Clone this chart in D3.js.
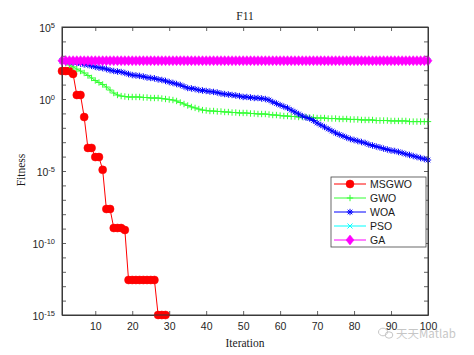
<!DOCTYPE html>
<html><head><meta charset="utf-8">
<script src="https://cdn.jsdelivr.net/npm/d3@7"></script>
<style>body{margin:0;background:#fff}svg{display:block}</style>
</head><body>
<svg id="chart" width="474" height="355"></svg>
<script>
const seriesNames = ["MSGWO", "GWO", "WOA", "PSO", "GA"];
const seriesColors = ["#ff0000", "#33ff33", "#0000ff", "#00ffff", "#ff00ff"];
const xTickValues = [10, 20, 30, 40, 50, 60, 70, 80, 90, 100];
const yLabelExponents = [5, 0, -5, -10, -15];

const msgwo = [8.7e1, 8.7e1, 8.7e1, 5.5e1, 1.9, 1.9, 5.6e-2, 4.0e-4, 4.0e-4, 9.3e-5,
  9.3e-5, 1.2e-5, 2.3e-8, 2.3e-8, 1.1e-9, 1.1e-9, 1.1e-9, 8e-10, 2.7e-13, 2.7e-13,
  2.7e-13, 2.7e-13, 2.7e-13, 2.7e-13, 2.7e-13, 2.7e-13, 1e-15, 1e-15, 1e-15];

const gwo = [4.4e2, 3.2e2, 2.3e2, 1.7e2, 1.2e2, 8.8e1, 6.4e1, 4.3e1, 2.9e1, 1.93e1,
  1.40e1, 1.02e1, 6.8, 4.2, 2.6, 1.9, 1.6, 1.49, 1.38, 1.38,
  1.38, 1.38, 1.27, 1.27, 1.17, 1.17, 1.17, 1.08, 1.0, 0.92,
  0.85, 0.73, 0.57, 0.45, 0.354, 0.28, 0.24, 0.20, 0.17, 0.16,
  0.147, 0.147, 0.136, 0.136, 0.125, 0.125, 0.115, 0.115, 0.107, 0.107,
  0.107, 0.098, 0.098, 0.091, 0.091, 0.091, 0.084, 0.077, 0.077, 0.071,
  0.066, 0.066, 0.061, 0.061, 0.056, 0.056, 0.056, 0.052, 0.052, 0.048,
  0.048, 0.048, 0.044, 0.044, 0.044, 0.041, 0.041, 0.041, 0.038, 0.038,
  0.038, 0.035, 0.035, 0.035, 0.035, 0.032, 0.032, 0.032, 0.032, 0.030,
  0.030, 0.030, 0.030, 0.030, 0.027, 0.027, 0.027, 0.027, 0.027, 0.027];

const woa = [4.4e2, 4.0e2, 3.7e2, 3.4e2, 3.2e2, 2.9e2, 2.5e2, 2.3e2, 2.0e2, 1.7e2,
  1.5e2, 1.4e2, 1.2e2, 1.0e2, 8.8e1, 8.1e1, 7.5e1, 6.4e1, 5.4e1, 4.6e1,
  4.3e1, 4.0e1, 3.6e1, 3.1e1, 2.9e1, 2.7e1, 2.3e1, 2.1e1, 1.8e1, 1.5e1,
  1.3e1, 1.1e1, 9.4, 7.4, 5.8, 5.4, 4.9, 4.2, 3.9, 3.6,
  3.3, 3.1, 2.8, 2.4, 2.2, 2.05, 1.9, 1.75, 1.6, 1.38,
  1.38, 1.27, 1.17, 1.17, 1.08, 1.0, 0.85, 0.62, 0.49, 0.38,
  0.30, 0.24, 0.17, 0.125, 0.091, 0.066, 0.052, 0.044, 0.032, 0.0215,
  0.0156, 0.0114, 0.0083, 0.0060, 0.0044, 0.0034, 0.0027, 0.0021, 0.00167, 0.00142,
  0.00121, 0.00103, 8.8e-4, 6.9e-4, 5.9e-4, 5.0e-4, 4.3e-4, 3.6e-4, 3.1e-4, 2.65e-4,
  2.45e-4, 2.1e-4, 1.8e-4, 1.5e-4, 1.3e-4, 1.1e-4, 9.4e-5, 8.0e-5, 6.8e-5, 5.8e-5];

const pso = [4.6e2, 4.6e2, 4.6e2, 4.6e2, 4.6e2, 4.6e2, 4.6e2, 4.6e2, 4.6e2, 4.6e2,
  4.6e2, 4.6e2, 4.6e2, 4.6e2, 4.6e2, 4.6e2, 4.6e2, 4.6e2, 4.6e2, 4.6e2,
  4.6e2, 4.6e2, 4.6e2, 4.6e2, 4.6e2, 4.6e2, 4.6e2, 4.6e2, 4.6e2, 4.6e2,
  4.6e2, 4.6e2, 4.6e2, 4.6e2, 4.6e2, 4.6e2, 4.6e2, 4.6e2, 4.6e2, 4.6e2,
  4.6e2, 4.6e2, 4.6e2, 4.6e2, 4.6e2, 4.6e2, 4.6e2, 4.6e2, 4.6e2, 4.6e2,
  4.6e2, 4.6e2, 4.6e2, 4.6e2, 4.6e2, 4.6e2, 4.6e2, 4.6e2, 4.6e2, 4.6e2,
  4.6e2, 4.6e2, 4.6e2, 4.6e2, 4.6e2, 4.6e2, 4.6e2, 4.6e2, 4.6e2, 4.6e2,
  4.6e2, 4.6e2, 4.6e2, 4.6e2, 4.6e2, 4.6e2, 4.6e2, 4.6e2, 4.6e2, 4.6e2,
  4.6e2, 4.6e2, 4.6e2, 4.6e2, 4.6e2, 4.6e2, 4.6e2, 4.6e2, 4.6e2, 4.6e2,
  4.6e2, 4.6e2, 4.6e2, 4.6e2, 4.6e2, 4.6e2, 4.6e2, 4.6e2, 4.6e2, 4.6e2];

const ga = [4.6e2, 4.6e2, 4.6e2, 4.6e2, 4.6e2, 4.6e2, 4.6e2, 4.6e2, 4.6e2, 4.6e2,
  4.6e2, 4.6e2, 4.6e2, 4.6e2, 4.6e2, 4.6e2, 4.6e2, 4.6e2, 4.6e2, 4.6e2,
  4.6e2, 4.6e2, 4.6e2, 4.6e2, 4.6e2, 4.6e2, 4.6e2, 4.6e2, 4.6e2, 4.6e2,
  4.6e2, 4.6e2, 4.6e2, 4.6e2, 4.6e2, 4.6e2, 4.6e2, 4.6e2, 4.6e2, 4.6e2,
  4.6e2, 4.6e2, 4.6e2, 4.6e2, 4.6e2, 4.6e2, 4.6e2, 4.6e2, 4.6e2, 4.6e2,
  4.6e2, 4.6e2, 4.6e2, 4.6e2, 4.6e2, 4.6e2, 4.6e2, 4.6e2, 4.6e2, 4.6e2,
  4.6e2, 4.6e2, 4.6e2, 4.6e2, 4.6e2, 4.6e2, 4.6e2, 4.6e2, 4.6e2, 4.6e2,
  4.6e2, 4.6e2, 4.6e2, 4.6e2, 4.6e2, 4.6e2, 4.6e2, 4.6e2, 4.6e2, 4.6e2,
  4.6e2, 4.6e2, 4.6e2, 4.6e2, 4.6e2, 4.6e2, 4.6e2, 4.6e2, 4.6e2, 4.6e2,
  4.6e2, 4.6e2, 4.6e2, 4.6e2, 4.6e2, 4.6e2, 4.6e2, 4.6e2, 4.6e2, 4.6e2];

const allSeries = [msgwo, gwo, woa, pso, ga];

const svg = d3.select("#chart");
const L = 62, R = 428, T = 27, B = 315;
const x = d3.scaleLinear().domain([1, 100]).range([L, R]);
const y = d3.scaleLog().domain([1e-15, 1e5]).range([B, T]);
const axisColor = "#3a3a3a";
const sans = "'Liberation Sans', Arial, sans-serif";
const serif = "'Liberation Serif', 'Times New Roman', serif";

// frame
svg.append("rect").attr("x", L).attr("y", T).attr("width", R - L).attr("height", B - T)
  .attr("fill", "#fff").attr("stroke", "none");

const decades = d3.range(-15, 6).map(e => Math.pow(10, e));

function styleAxis(g) {
  g.select(".domain").attr("stroke", axisColor).attr("stroke-width", 1);
  g.selectAll(".tick line").attr("stroke", axisColor).attr("stroke-width", 0.8);
  g.selectAll("text").attr("fill", "#262626").attr("font-family", sans).attr("font-size", "10.5px");
}

const gx = svg.append("g").attr("transform", `translate(0,${B})`)
  .call(d3.axisBottom(x).tickValues(xTickValues).tickSizeInner(-4).tickSizeOuter(0).tickPadding(8))
  .call(styleAxis);
svg.append("g").attr("transform", `translate(0,${T})`)
  .call(d3.axisTop(x).tickValues(xTickValues).tickSizeInner(-4).tickSizeOuter(0).tickFormat(() => ""))
  .call(styleAxis);
const gy = svg.append("g").attr("transform", `translate(${L},0)`)
  .call(d3.axisLeft(y).tickValues(decades).tickSizeInner(-4).tickSizeOuter(0).tickPadding(16).tickFormat(() => ""))
  .call(styleAxis);
svg.append("g").attr("transform", `translate(${R},0)`)
  .call(d3.axisRight(y).tickValues(decades).tickSizeInner(-4).tickSizeOuter(0).tickFormat(() => ""))
  .call(styleAxis);

gy.selectAll(".tick").each(function(d) {
  const e = Math.round(Math.log10(d));
  if (!yLabelExponents.includes(e)) return;
  const t = d3.select(this).select("text");
  t.append("tspan").text("10");
  t.append("tspan").attr("font-size", "7.5px").attr("dy", "-0.5em").text(String(e));
  t.attr("x", -7).attr("dy", "0.45em");
});

// series
const line = d3.line().x((d, i) => x(i + 1)).y(d => y(d));

function drawMarker(g, kind, color, cx, cy) {
  if (kind === 0) {
    g.append("circle").attr("cx", cx).attr("cy", cy).attr("r", 4).attr("fill", color).attr("stroke", color).attr("stroke-width", 0.5);
  } else if (kind === 1) {
    const s = 3.2;
    g.append("path").attr("d", `M${cx - s},${cy}H${cx + s}M${cx},${cy - s}V${cy + s}`).attr("stroke", color).attr("stroke-width", 1).attr("fill", "none");
  } else if (kind === 2) {
    const s = 3.2, d = 2.3;
    g.append("path").attr("d", `M${cx - s},${cy}H${cx + s}M${cx},${cy - s}V${cy + s}M${cx - d},${cy - d}L${cx + d},${cy + d}M${cx - d},${cy + d}L${cx + d},${cy - d}`)
      .attr("stroke", color).attr("stroke-width", 1).attr("fill", "none");
  } else if (kind === 3) {
    const d = 2.5;
    g.append("path").attr("d", `M${cx - d},${cy - d}L${cx + d},${cy + d}M${cx - d},${cy + d}L${cx + d},${cy - d}`)
      .attr("stroke", color).attr("stroke-width", 1).attr("fill", "none");
  } else {
    const w = 4, h = 5;
    g.append("path").attr("d", `M${cx},${cy - h}L${cx + w},${cy}L${cx},${cy + h}L${cx - w},${cy}Z`)
      .attr("fill", color).attr("stroke", color).attr("stroke-width", 0.5);
  }
}

allSeries.forEach((data, k) => {
  const g = svg.append("g");
  g.append("path").datum(data).attr("d", line).attr("fill", "none")
    .attr("stroke", seriesColors[k]).attr("stroke-width", 1);
  data.forEach((v, i) => drawMarker(g, k, seriesColors[k], x(i + 1), y(v)));
});

// redraw frame border on top
svg.append("rect").attr("x", L).attr("y", T).attr("width", R - L).attr("height", B - T)
  .attr("fill", "none").attr("stroke", axisColor).attr("stroke-width", 1);

// titles
svg.append("text").attr("x", (L + R) / 2).attr("y", 20).attr("text-anchor", "middle")
  .attr("font-family", serif).attr("font-size", "11.5px").attr("fill", "#1a1a1a").text("F11");
svg.append("text").attr("x", (L + R) / 2).attr("y", 347).attr("text-anchor", "middle")
  .attr("font-family", serif).attr("font-size", "11.5px").attr("fill", "#1a1a1a").text("Iteration");
svg.append("text").attr("transform", "translate(25,170) rotate(-90)").attr("text-anchor", "middle")
  .attr("font-family", serif).attr("font-size", "11.5px").attr("fill", "#1a1a1a").text("Fitness");

// legend
const lg = svg.append("g");
lg.append("rect").attr("x", 331).attr("y", 177).attr("width", 95).attr("height", 70)
  .attr("fill", "#fff").attr("stroke", "#444").attr("stroke-width", 0.8);
seriesNames.forEach((name, k) => {
  const ly = 184 + k * 14;
  lg.append("line").attr("x1", 334).attr("x2", 366).attr("y1", ly).attr("y2", ly)
    .attr("stroke", seriesColors[k]).attr("stroke-width", 1);
  drawMarker(lg, k, seriesColors[k], 350, ly);
  lg.append("text").attr("x", 370).attr("y", ly).attr("dy", "0.36em")
    .attr("font-family", sans).attr("font-size", "10.5px").attr("fill", "#1a1a1a").text(name);
});

// watermark
const wm = svg.append("g").attr("opacity", 0.55);
wm.append("ellipse").attr("cx", 383).attr("cy", 332).attr("rx", 4.5).attr("ry", 3.8).attr("fill", "none").attr("stroke", "#999");
wm.append("ellipse").attr("cx", 389).attr("cy", 335).attr("rx", 3.8).attr("ry", 3.2).attr("fill", "none").attr("stroke", "#999");
wm.append("text").attr("x", 396).attr("y", 338).attr("font-family", "'Noto Sans CJK SC', sans-serif")
  .attr("font-size", "11.5px").attr("fill", "#999").text("天天Matlab");
</script>
</body></html>
